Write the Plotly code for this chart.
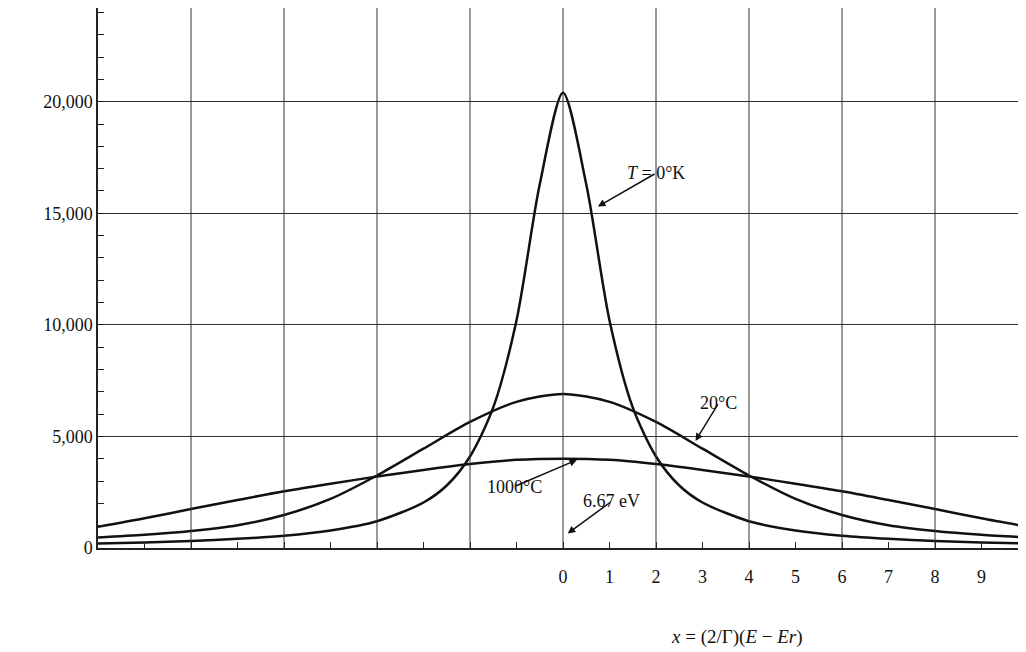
import plotly.graph_objects as go

x_half = [0, 0.5, 1, 1.5, 2, 2.5, 3, 4, 5, 6, 7, 8, 9, 10]
t0_half = [20400, 16300, 10200, 6300, 4100, 2800, 2040, 1200, 785, 550, 410, 315, 250, 200]
x_int = [0, 1, 2, 3, 4, 5, 6, 7, 8, 9, 10]
c20_half = [6900, 6550, 5650, 4450, 3250, 2200, 1480, 1020, 760, 590, 470]
c1000_half = [4000, 3950, 3760, 3500, 3200, 2880, 2540, 2150, 1750, 1330, 950]

def mirror(xs, ys):
    return [-v for v in xs[:0:-1]] + xs, ys[:0:-1] + ys

font = dict(family="Liberation Serif, DejaVu Serif, serif", size=18, color="#111")
fig = go.Figure()
for xs, ys in [(x_half, t0_half), (x_int, c20_half), (x_int, c1000_half)]:
    mx, my = mirror(xs, ys)
    fig.add_trace(go.Scatter(x=mx, y=my, mode="lines",
                             line=dict(color="#111", width=2.5, shape="spline", smoothing=0.8),
                             showlegend=False))

tickvals = list(range(-10, 11))
ticktext = ["" if v < 0 else str(v) for v in tickvals]
fig.update_layout(
    width=1026, height=652, paper_bgcolor="white", plot_bgcolor="white",
    margin=dict(l=90, r=6, t=0, b=112), font=font,
    xaxis=dict(range=[-10, 10], tickvals=tickvals, ticktext=ticktext, ticks="inside", ticklen=6,
               tickcolor="#222", showgrid=False, showline=True, linecolor="#222", linewidth=1.5,
               zeroline=False, ticklabelstandoff=12, automargin=False),
    yaxis=dict(range=[0, 24200], tickvals=[0, 5000, 10000, 15000, 20000],
               ticktext=["0", "5,000", "10,000", "15,000", "20,000"], ticks="", showgrid=True,
               gridcolor="#333", gridwidth=1, showline=True, linecolor="#222", linewidth=1.5,
               zeroline=False, automargin=False,
               minor=dict(dtick=1000, ticks="inside", ticklen=6, tickcolor="#222")),
)
for gx in range(-8, 11, 2):
    fig.add_shape(type="line", x0=gx, x1=gx, y0=0, y1=1, yref="paper", line=dict(color="#333", width=1))

def ann(text, ax, ay, tx, ty):
    fig.add_annotation(x=tx, y=ty, ax=ax, ay=ay, axref="x", ayref="y", text="", showarrow=True,
                       arrowhead=2, arrowsize=1, arrowwidth=1.5, arrowcolor="#111")
    fig.add_annotation(x=ax, y=ay, text=text, showarrow=False, font=font)

ann("<i>T</i> = 0°K", 2.0, 16800, 0.75, 15300)
ann("20°C", 3.35, 6500, 2.85, 4800)
ann("1000°C", -1.05, 2750, 0.3, 3950)
ann("6.67 eV", 1.05, 2100, 0.1, 650)
fig.add_annotation(x=0.76, y=-0.14, xref="paper", yref="paper", yanchor="top", showarrow=False,
                   text="<i>x</i> = (2/Γ)(<i>E</i> − <i>Er</i>)",
                   font=dict(family=font["family"], size=19, color="#111"))
fig.write_html("out.html")
